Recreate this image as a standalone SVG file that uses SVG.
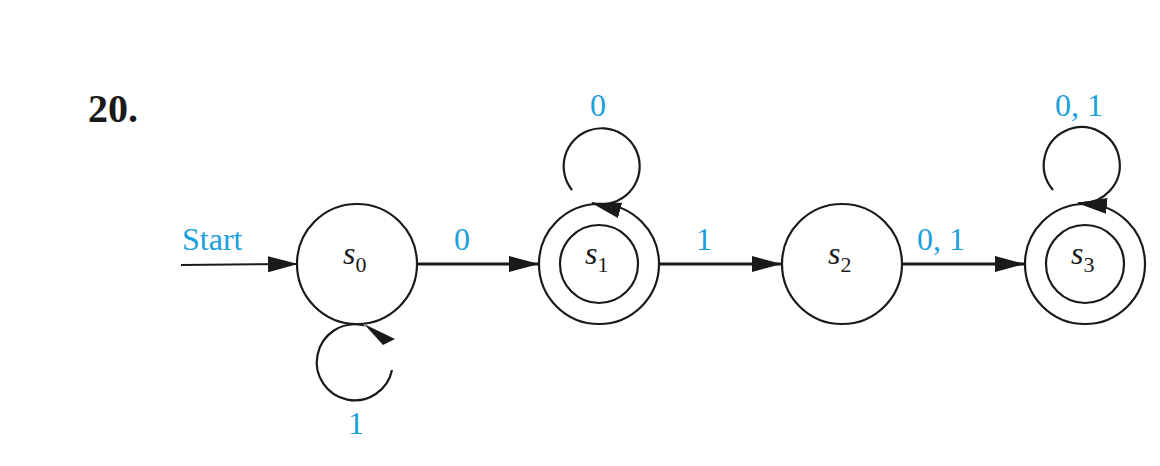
<svg xmlns="http://www.w3.org/2000/svg" width="1160" height="466" viewBox="0 0 1160 466">
<style>
.st{fill:none;stroke:#1a1a1a;stroke-width:2.2}
.e{fill:none;stroke:#1a1a1a;stroke-width:3}
.lb{font-family:"Liberation Serif",serif;font-size:32px;fill:#1aa0dc}
.nm{font-family:"Liberation Serif",serif;font-size:32px;font-style:italic;fill:#1a1a1a}
.sub{font-size:22px;font-style:normal}
</style>
<defs>
<marker id="ah" markerWidth="12" markerHeight="10" refX="11" refY="5" orient="auto" markerUnits="userSpaceOnUse" viewBox="0 0 12 10">
<path d="M0,0 L12,5 L0,10 Z" fill="#1a1a1a"/>
</marker>
<marker id="ahb" markerWidth="30" markerHeight="16" refX="29" refY="8" orient="auto" markerUnits="userSpaceOnUse" viewBox="0 0 30 16">
<path d="M0,0 L30,8 L0,16 Z" fill="#1a1a1a"/>
</marker>
</defs>
<text x="88" y="122" font-family="Liberation Serif,serif" font-size="40" font-weight="bold" fill="#1a1a1a">20.</text>
<g id="connectors">
<line x1="181" y1="265" x2="297" y2="264" stroke="#1a1a1a" stroke-width="2" marker-end="url(#ahb)"/>
<line class="e" x1="417" y1="264" x2="538" y2="264" marker-end="url(#ahb)"/>
<line class="e" x1="660" y1="264" x2="781" y2="264" marker-end="url(#ahb)"/>
<line class="e" x1="903" y1="264" x2="1024" y2="264" marker-end="url(#ahb)"/>
<path class="st" d="M572,190 A38,38 0 1 1 592,203" marker-end="url(#ahb)"/>
<path class="st" d="M1053,190 A38,38 0 1 1 1078,203" marker-end="url(#ahb)"/>
<path class="st" d="M392,370 A38,38 0 1 1 362,325 L361,324" />
<path d="M364,324 L395,339 L383,345 Z" fill="#1a1a1a"/>
<text class="lb" x="182" y="250">Start</text>
<text class="lb" x="454" y="250">0</text>
<text class="lb" x="696" y="250">1</text>
<text class="lb" x="917" y="250">0, 1</text>
<text class="lb" x="590" y="116">0</text>
<text class="lb" x="1055" y="116">0, 1</text>
<text class="lb" x="348" y="434">1</text>
</g>
<g id="s0"><circle class="st" cx="357" cy="264" r="60"/><text class="nm" x="343" y="264">s<tspan class="sub" dy="8">0</tspan></text></g>
<g id="s1"><circle class="st" cx="599" cy="264" r="60"/><circle class="st" cx="599" cy="264" r="39"/><text class="nm" x="585" y="264">s<tspan class="sub" dy="8">1</tspan></text></g>
<g id="s2"><circle class="st" cx="842" cy="264" r="60"/><text class="nm" x="828" y="264">s<tspan class="sub" dy="8">2</tspan></text></g>
<g id="s3"><circle class="st" cx="1085" cy="264" r="60"/><circle class="st" cx="1085" cy="264" r="39"/><text class="nm" x="1071" y="264">s<tspan class="sub" dy="8">3</tspan></text></g>
</svg>
